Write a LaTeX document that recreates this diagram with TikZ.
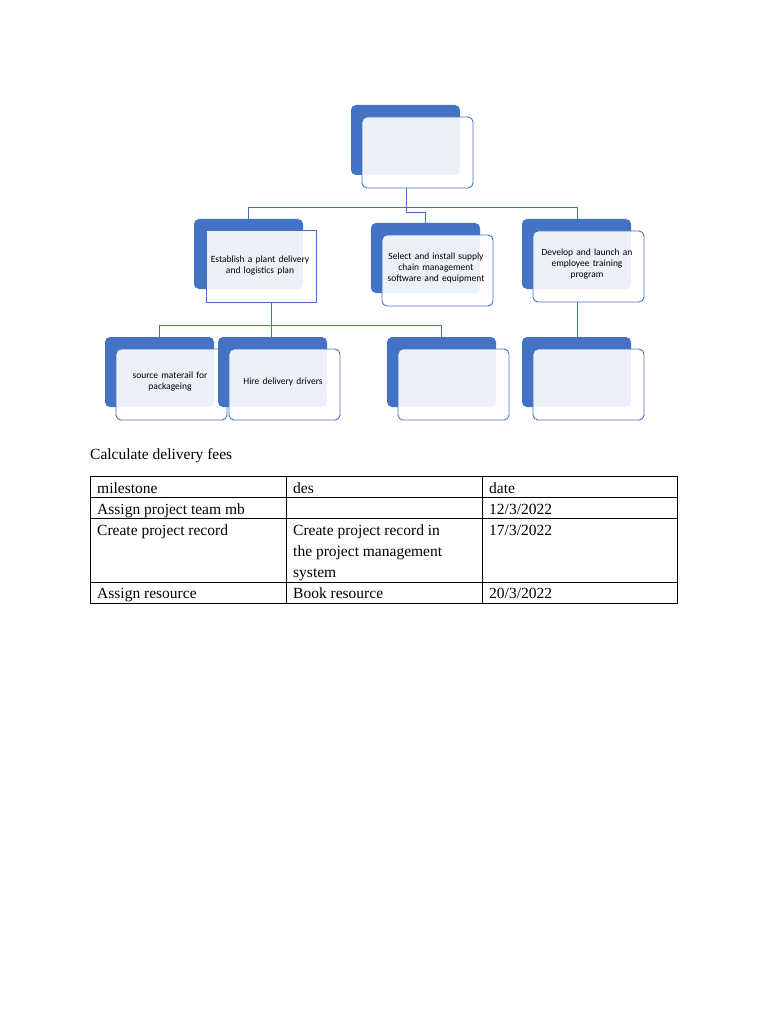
\documentclass[tikz,border=0pt]{standalone}
\usepackage{fontspec}
\setmainfont{Liberation Serif}
\newfontfamily\boxfont{Carlito}
\definecolor{darkblue}{HTML}{4472C4}
\tikzset{
  backbox/.style={fill=darkblue, rounded corners=5pt},
  frontbox/.style={draw=darkblue, fill=white, fill opacity=0.9, rounded corners=5pt, line width=0.9pt},
  link/.style={draw=darkblue, line width=0.9pt},
  boxtext/.style={font=\boxfont\fontsize{9.5}{11}\selectfont, align=center, text width=104pt},
  cell/.style={anchor=base west, inner sep=0pt, font=\fontsize{15.5}{21}\selectfont}
}
% \orgbox{name}{back x}{back y}{text}
\newcommand{\orgbox}[4]{%
  \fill[backbox] (#2,#3) rectangle ++(109,70);
  \draw[frontbox] (#2+11,#3+12) rectangle ++(111,71);
  \node[boxtext] (#1) at (#2+54+11,#3+45) {#4};
}
\begin{document}
\begin{tikzpicture}[x=1pt,y=-1pt]
\useasboundingbox (0,0) rectangle (768,1024);
\fill[white] (0,0) rectangle (768,1024);

% connectors
\draw[link] (406,188) -- (406,207) coordinate (top);
\draw[link] (248,219) -- (248,207) -- (577,207) -- (577,219);
\draw[link] (406,207) -- (406,212) -- (425,212) -- (425,223);
\draw[link] (271,302) -- (271,325) coordinate (mid);
\draw[link] (159,337) -- (159,325) -- (441,325) -- (441,337);
\draw[link] (mid) -- (271,337);
\draw[link] (577,301) -- (577,337);

% boxes
\orgbox{root}{351}{105}{}
\fill[backbox] (194,219) rectangle ++(109,70);
\draw[darkblue, fill=white, fill opacity=0.9, line width=0.9pt] (206,230) rectangle (316,302);
\node[boxtext] (plan) at (260,266) {Establish a plant delivery\\and logistics plan};
\orgbox{soft}{371}{223}{Select and install supply\\chain management\\software and equipment}
\orgbox{train}{522}{219}{Develop and launch an\\employee training\\program}
\orgbox{source}{105}{337}{source materail for\\packageing}
\orgbox{hire}{218}{337}{Hire delivery drivers}
\orgbox{emptya}{387}{337}{}
\orgbox{emptyb}{522}{337}{}

% table
\node[cell] (caption) at (90,459) {Calculate delivery fees};
\draw[line width=0.7pt] (90,476) rectangle (677,603);
\foreach \y in {497,518,582} \draw[line width=0.7pt] (90,\y) -- (677,\y);
\foreach \x in {286,482} \draw[line width=0.7pt] (\x,476) -- (\x,603);
\node[cell] (h1) at (97,493) {milestone};
\node[cell] (h2) at (293,493) {des};
\node[cell] (h3) at (489,493) {date};
\node[cell] (r1a) at (97,514) {Assign project team mb};
\node[cell] (r1c) at (489,514) {12/3/2022};
\node[cell] (r2a) at (97,535) {Create project record};
\node[cell, anchor=north west, align=left] (r2b) at (293,524.2) {Create project record in\\the project management\\system};
\node[cell] (r2c) at (489,535) {17/3/2022};
\node[cell] (r3a) at (97,598) {Assign resource};
\node[cell] (r3b) at (293,598) {Book resource};
\node[cell] (r3c) at (489,598) {20/3/2022};
\end{tikzpicture}
\end{document}
